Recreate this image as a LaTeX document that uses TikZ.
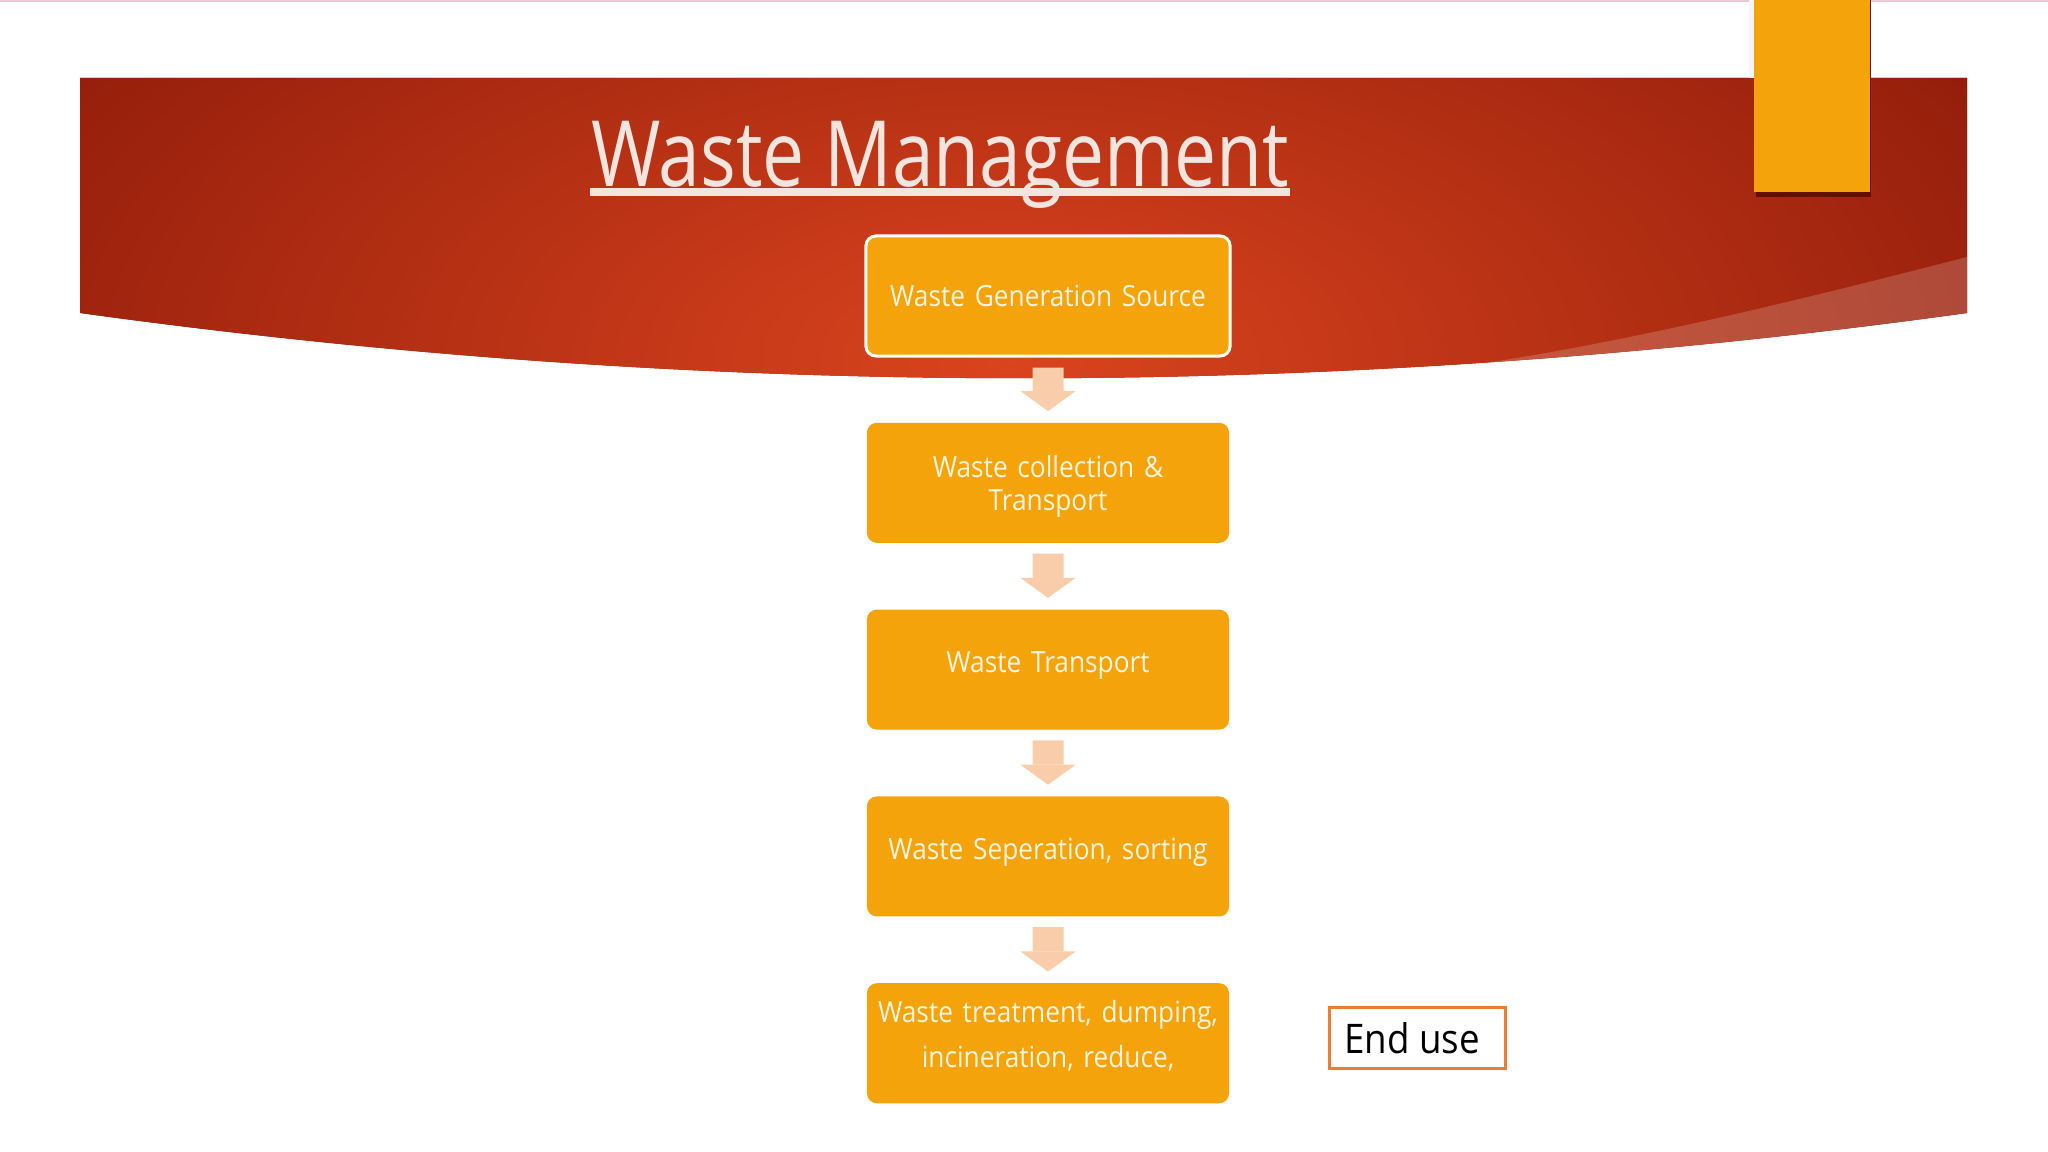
\documentclass[tikz,border=0pt]{standalone}
\usepackage{fontspec}
\setmainfont[FakeStretch=0.9]{Open Sans}
\newfontfamily\titlefont[FakeStretch=0.82]{Open Sans}
\usetikzlibrary{arrows.meta,positioning}

\definecolor{bannerdark}{RGB}{130,20,6}
\definecolor{bannerlight}{RGB}{218,68,30}
\definecolor{boxorange}{RGB}{245,163,11}
\definecolor{arrowpeach}{RGB}{249,205,170}
\definecolor{titlecream}{RGB}{244,228,222}
\definecolor{boxtext}{RGB}{255,244,222}
\definecolor{edgeorange}{RGB}{237,125,49}
\definecolor{tabshadow}{RGB}{100,15,5}
\definecolor{topline}{RGB}{233,201,211}

\newcommand{\lowstrut}[1]{\rule[-#1]{0pt}{0pt}}
\newcommand{\highstrut}[1]{\rule{0pt}{#1}}

\tikzset{
  flowbox/.style={rectangle, draw=none, rounded corners=0.1cm, fill=boxorange,
    text=boxtext, minimum width=3.62cm, minimum height=1.2cm, text width=3.45cm,
    align=center, inner sep=0pt, font=\fontsize{8.3}{9.4}\selectfont},
  firstbox/.style={flowbox, draw=white, line width=0.03cm, minimum width=3.64cm},
  flow/.style={draw=arrowpeach, line width=0.31cm,
    -{Triangle[width=0.55cm,length=0.2cm,line width=0pt]},
    shorten <=0.1cm, shorten >=0.11cm},
  endbox/.style={rectangle, draw=edgeorange, line width=0.03cm, fill=white,
    minimum width=1.76cm, minimum height=0.61cm, inner sep=0pt,
    font=\fontsize{11.6}{14}\selectfont},
  titletext/.style={text=titlecream, inner sep=0pt,
    font=\titlefont\fontsize{26}{30}\selectfont}
}

\begin{document}
\begin{tikzpicture}[x=0.01cm, y=-0.01cm]
  \useasboundingbox (0,0) rectangle (2048,1152);
  \fill[white] (0,0) rectangle (2048,1152);
  \fill[topline] (0,0) rectangle (2048,2);

  % banner
  \begin{scope}
    \clip (80,78) -- (1967,78) -- (1967,313)
      .. controls (1338,400) and (709,400) .. (80,313) -- cycle;
    \fill[bannerdark] (0,0) rectangle (2048,500);
    \shade[inner color=bannerlight, outer color=bannerdark]
      (1010,360) ellipse [x radius=14cm, y radius=7cm];
    \fill[white, opacity=0.18] (1967,257) .. controls (1800,300) and (1600,350)
      .. (1420,372) -- (1420,460) -- (1967,460) -- cycle;
  \end{scope}

  % tab
  \fill[black!4] (1749,0) rectangle (1754,78);
  \fill[tabshadow] (1756,0) rectangle (1871,197);
  \fill[boxorange] (1754,0) rectangle (1870,192);

  % title
  \node[titletext, anchor=base] (title) at (940,187) {Waste Management};
  \draw[titlecream, line width=0.085cm]
    ([yshift=-0.05cm]title.base west) -- ([yshift=-0.05cm]title.base east);

  % flow chart
  \node[firstbox] (gen) at (1048,296) {Waste Generation Source}
    [grow=down, level distance=1.867cm, edge from parent/.style={draw, flow}]
    child {node[flowbox] (coll) {\highstrut{8.6pt}Waste collection \&\\Transport}
      child {node[flowbox] (trans) {Waste Transport\lowstrut{4.5pt}}
        child {node[flowbox] (sort) {Waste Seperation, sorting\lowstrut{4.6pt}}
          child {node[flowbox] (treat)
            {Waste treatment, dumping,\\[3.4pt]incineration, reduce,\lowstrut{5.2pt}}}
        }
      }
    };

  \node[endbox, right=0.98cm of treat, yshift=0.05cm] (enduse) {End use\kern3pt};
\end{tikzpicture}
\end{document}
